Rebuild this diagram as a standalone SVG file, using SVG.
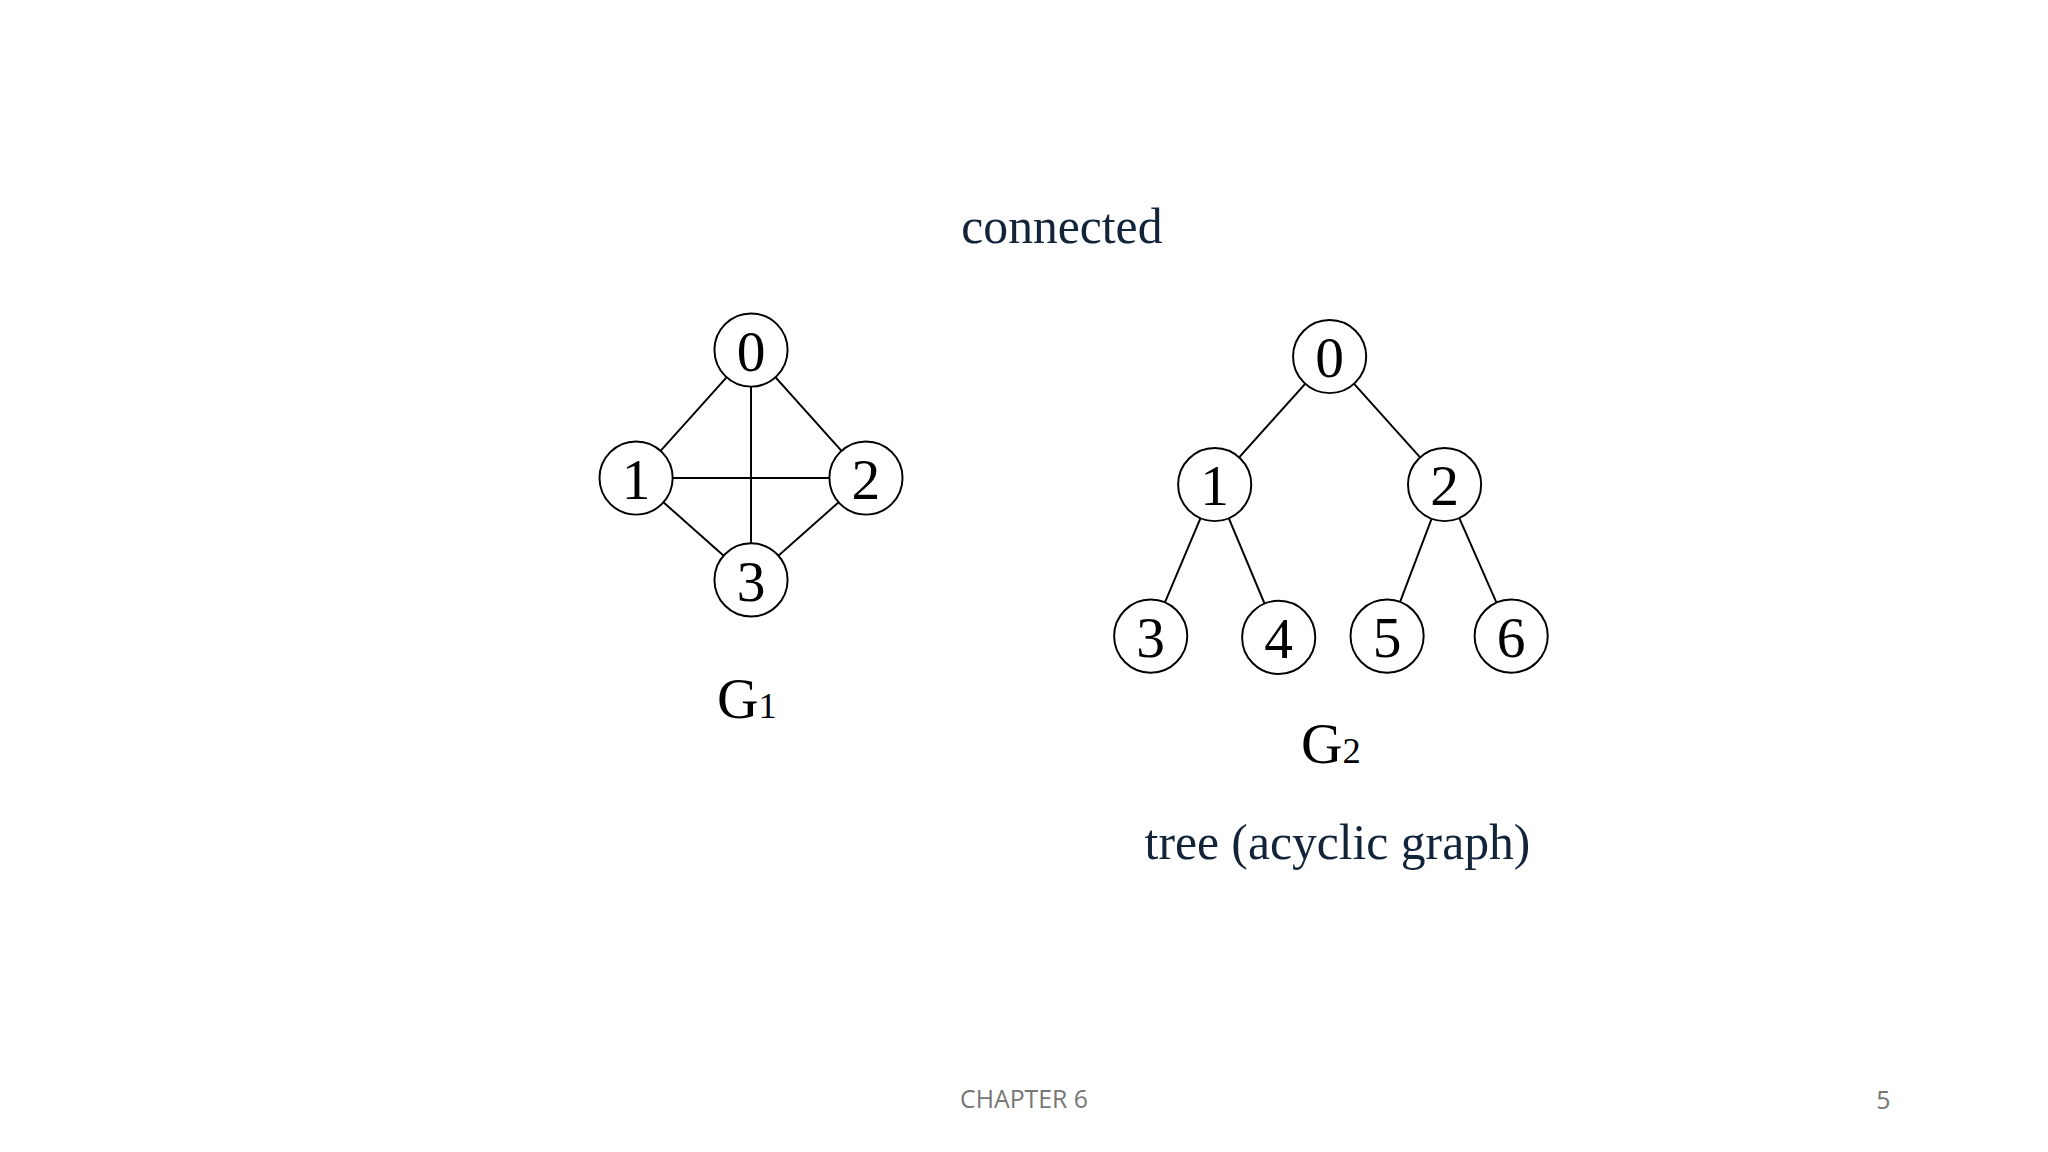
<svg xmlns="http://www.w3.org/2000/svg" width="2048" height="1152" viewBox="0 0 2048 1152">
<style>
.n circle{fill:#fff;stroke:#000;stroke-width:1.5}
.n text{font-family:"Liberation Serif",serif;font-size:44px;text-anchor:middle;fill:#000}
.e line{stroke:#000;stroke-width:1.5}
.t{font-family:"Liberation Serif",serif;fill:#12243a}
.f{font-family:"Open Sans",sans-serif;font-size:19px;fill:#777}
</style>
<rect width="2048" height="1152" fill="#fff"/>
<g transform="scale(1.30612)">
<text class="t" x="813" y="186" font-size="38" text-anchor="middle">connected</text>
<g class="e" id="connectors">
<line x1="575" y1="268" x2="487" y2="366"/><line x1="575" y1="268" x2="663" y2="366"/>
<line x1="575" y1="268" x2="575" y2="444"/><line x1="487" y1="366" x2="663" y2="366"/>
<line x1="487" y1="366" x2="575" y2="444"/><line x1="663" y1="366" x2="575" y2="444"/>
<line x1="1018" y1="273" x2="930" y2="371"/><line x1="1018" y1="273" x2="1106" y2="371"/>
<line x1="930" y1="371" x2="881" y2="487"/><line x1="930" y1="371" x2="979" y2="488"/>
<line x1="1106" y1="371" x2="1062" y2="487"/><line x1="1106" y1="371" x2="1157" y2="487"/>
</g>
<g class="n" id="g1n0"><circle cx="575" cy="268" r="28"/><text x="575" y="284">0</text></g>
<g class="n" id="g1n1"><circle cx="487" cy="366" r="28"/><text x="487" y="382">1</text></g>
<g class="n" id="g1n2"><circle cx="663" cy="366" r="28"/><text x="663" y="382">2</text></g>
<g class="n" id="g1n3"><circle cx="575" cy="444" r="28"/><text x="575" y="460">3</text></g>
<g class="n" id="g2n0"><circle cx="1018" cy="273" r="28"/><text x="1018" y="289">0</text></g>
<g class="n" id="g2n1"><circle cx="930" cy="371" r="28"/><text x="930" y="387">1</text></g>
<g class="n" id="g2n2"><circle cx="1106" cy="371" r="28"/><text x="1106" y="387">2</text></g>
<g class="n" id="g2n3"><circle cx="881" cy="487" r="28"/><text x="881" y="503">3</text></g>
<g class="n" id="g2n4"><circle cx="979" cy="488" r="28"/><text x="979" y="504">4</text></g>
<g class="n" id="g2n5"><circle cx="1062" cy="487" r="28"/><text x="1062" y="503">5</text></g>
<g class="n" id="g2n6"><circle cx="1157" cy="487" r="28"/><text x="1157" y="503">6</text></g>
<text x="549" y="550" font-family="Liberation Serif,serif" font-size="44">G<tspan font-size="28">1</tspan></text>
<text x="996" y="584" font-family="Liberation Serif,serif" font-size="44">G<tspan font-size="28">2</tspan></text>
<text class="t" x="1024" y="658" font-size="38" text-anchor="middle">tree (acyclic graph)</text>
<text class="f" x="784" y="848" text-anchor="middle">CHAPTER 6</text>
<text class="f" x="1442" y="849" text-anchor="middle">5</text>
</g>
</svg>
